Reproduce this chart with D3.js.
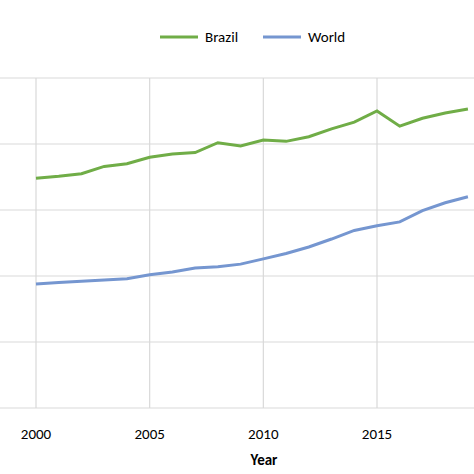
<!DOCTYPE html>
<html><head><meta charset="utf-8">
<script src="https://cdn.jsdelivr.net/npm/d3@7"></script>
<style>body{margin:0;background:#fff}text{font-family:Calibri,Carlito,"Liberation Sans",sans-serif}</style>
</head><body><svg id="c" width="474" height="474"></svg>
<script>
var years = d3.range(2000, 2020);
var brazil = [3.48,3.51,3.55,3.66,3.70,3.80,3.85,3.87,4.02,3.97,4.06,4.04,4.11,4.23,4.33,4.50,4.27,4.39,4.47,4.53];
var world = [1.88,1.90,1.92,1.94,1.96,2.02,2.06,2.12,2.14,2.18,2.26,2.34,2.44,2.56,2.69,2.76,2.82,2.99,3.11,3.20];
var xTicks = [2000, 2005, 2010, 2015, 2020];
var yTicks = [0, 1, 2, 3, 4, 5];

var svg = d3.select('#c');
var x = d3.scaleLinear().domain([2000, 2015]).range([36, 377]);
var y = d3.scaleLinear().domain([0, 5]).range([408, 78]);

svg.selectAll('.gy').data(yTicks).enter().append('line')
  .attr('x1', 0).attr('x2', 474).attr('y1', y).attr('y2', y)
  .attr('stroke', '#d9d9d9').attr('stroke-width', 1.2);
svg.selectAll('.gx').data(xTicks).enter().append('line')
  .attr('x1', x).attr('x2', x).attr('y1', 78).attr('y2', 408)
  .attr('stroke', '#d9d9d9').attr('stroke-width', 1.2);

svg.selectAll('.tl').data(xTicks.slice(0, 4)).enter().append('text')
  .attr('x', x).attr('y', 439).attr('text-anchor', 'middle')
  .attr('font-size', 15).attr('fill', '#000').text(function (d) { return d; });
svg.append('text').attr('x', 264).attr('y', 465).attr('text-anchor', 'middle')
  .attr('font-size', 15).attr('font-weight', 'bold').text('Year');

var line = d3.line().x(function (d, i) { return x(years[i]); }).y(function (d) { return y(d); });
var series = [{name: 'Brazil', vals: brazil, color: '#70ad47'}, {name: 'World', vals: world, color: '#7596d0'}];
series.forEach(function (s) {
  svg.append('path').datum(s.vals).attr('d', line).attr('fill', 'none')
    .attr('stroke', s.color).attr('stroke-width', 3);
});

var lg = [{s: series[0], x: 160}, {s: series[1], x: 263}];
lg.forEach(function (l) {
  svg.append('line').attr('x1', l.x).attr('x2', l.x + 38).attr('y1', 37).attr('y2', 37)
    .attr('stroke', l.s.color).attr('stroke-width', 3);
  svg.append('text').attr('x', l.x + 45).attr('y', 42).attr('font-size', 15).text(l.s.name);
});
</script></body></html>
